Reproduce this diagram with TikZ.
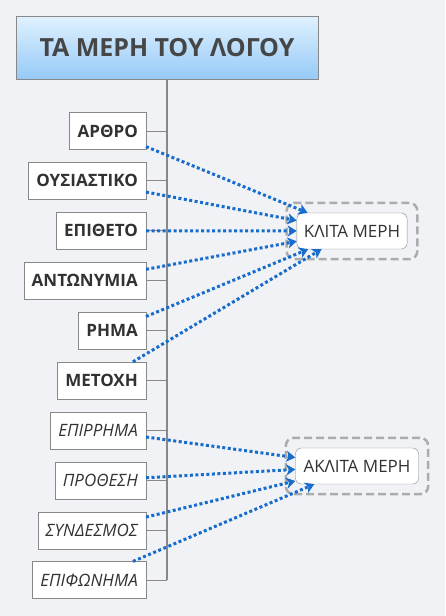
\documentclass[tikz,border=0pt]{standalone}
\usepackage{fontspec}
\setmainfont{Open Sans}
\usetikzlibrary{positioning,fit,arrows.meta}

\definecolor{bg}{RGB}{240,242,245}
\definecolor{linegray}{RGB}{136,136,136}
\definecolor{framegray}{RGB}{172,172,172}
\definecolor{relblue}{RGB}{24,108,204}
\definecolor{titletop}{RGB}{224,241,254}
\definecolor{titlebot}{RGB}{150,202,247}
\definecolor{textdark}{RGB}{50,50,50}

\newcommand{\PartLink}[4]{
\node[#4,below=12.5pt of #3.south east,anchor=north east] (#1) {#2};
\draw[stub] (#1.east) -- (#1.east -| Title.south);
}
\newcommand{\RelLink}[2]{
\draw[rel] (#1) -- (#2);
}

\tikzset{every node/.style={font=\fontsize{17}{20}\selectfont, text=textdark}}
\tikzset{Title/.style={draw=linegray,top color=titletop,bottom color=titlebot,minimum width=302pt,minimum height=63pt,font=\fontsize{25}{30}\selectfont\bfseries,text=textdark!90!white}}
\tikzset{Part/.style={draw=linegray,fill=white,minimum height=37pt,inner xsep=8pt,inner ysep=0pt,font=\fontsize{17}{20}\selectfont\bfseries}}
\tikzset{PartI/.style={Part,font=\fontsize{17}{20}\selectfont\itshape}}
\tikzset{Group/.style={draw=linegray,fill=white,rounded corners=6pt,minimum height=36pt,inner xsep=7pt,inner ysep=0pt}}
\tikzset{Frame/.style={draw=framegray,line width=2.5pt,dash pattern=on 8pt off 4pt,rounded corners=8pt,inner sep=10pt}}
\tikzset{stub/.style={draw=linegray,line width=1pt}}
\tikzset{spine/.style={draw=linegray,line width=1.6pt}}
\tikzset{rel/.style={draw=relblue,line width=3pt,dash pattern=on 3pt off 2.5pt,-{Stealth[length=9pt,width=11pt,inset=2.5pt]}}}

\begin{document}
\begin{tikzpicture}[x=1pt,y=-1pt]

\fill[bg] (0,0) rectangle (445,616);

\node[Title] (Title) at (167,47.5) {ΤΑ ΜΕΡΗ ΤΟΥ ΛΟΓΟΥ};

\node[Part,anchor=east] (Arthro) at (146,131) {ΑΡΘΡΟ};
\draw[stub] (Arthro.east) -- (Arthro.east -| Title.south);

\PartLink{Ousiastiko}{ΟΥΣΙΑΣΤΙΚΟ}{Arthro}{Part}
\PartLink{Epitheto}{ΕΠΙΘΕΤΟ}{Ousiastiko}{Part}
\PartLink{Antonymia}{ΑΝΤΩΝΥΜΙΑ}{Epitheto}{Part}
\PartLink{Rima}{ΡΗΜΑ}{Antonymia}{Part}
\PartLink{Metochi}{ΜΕΤΟΧΗ}{Rima}{Part}
\PartLink{Epirrima}{ΕΠΙΡΡΗΜΑ}{Metochi}{PartI}
\PartLink{Prothesi}{ΠΡΟΘΕΣΗ}{Epirrima}{PartI}
\PartLink{Syndesmos}{ΣΥΝΔΕΣΜΟΣ}{Prothesi}{PartI}
\PartLink{Epifonima}{ΕΠΙΦΩΝΗΜΑ}{Syndesmos}{PartI}

	\draw[spine] (Title.south) -- (Title.south |- Epifonima.east);

% kinds of words
\node[Group] (Klita) at (352,231) {ΚΛΙΤΑ ΜΕΡΗ};
\node[Frame,fit=(Klita)] (KlitaFrame) {};

\node[Group,inner xsep=8pt] (Aklita) at (357,466) {ΑΚΛΙΤΑ ΜΕΡΗ};
\node[Frame,inner xsep=9.5pt,fit=(Aklita)] (AklitaFrame) {};

\RelLink{Arthro}{Klita}
\RelLink{Ousiastiko}{Klita}
\RelLink{Epitheto}{Klita}
\RelLink{Antonymia}{Klita}
\RelLink{Rima}{Klita}
\RelLink{Metochi}{Klita}

\RelLink{Epirrima}{Aklita}
\RelLink{Prothesi}{Aklita}
\RelLink{Syndesmos}{Aklita}
\RelLink{Epifonima}{Aklita}

\end{tikzpicture}
\end{document}
